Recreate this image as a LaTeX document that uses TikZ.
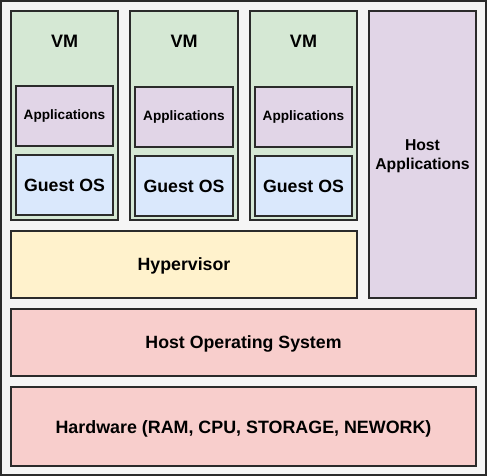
\documentclass[tikz,border=0pt]{standalone}
\usepackage{fontspec}
\setmainfont{Liberation Sans}
\definecolor{bgc}{HTML}{F5F5F5}
\definecolor{vmc}{HTML}{D5E8D4}
\definecolor{appc}{HTML}{E1D5E7}
\definecolor{osc}{HTML}{DAE8FC}
\definecolor{hypc}{HTML}{FFF2CC}
\definecolor{hwc}{HTML}{F8CECC}
\definecolor{edgec}{HTML}{2B2B2B}
\begin{document}
\begin{tikzpicture}[x=0.75pt,y=-0.75pt,
  box/.style={draw=edgec,line width=1.5pt,inner sep=0pt},
  lab/.style={font=\bfseries,text=black,align=center}]
\useasboundingbox (0,0) rectangle (487,476);
\path[fill=bgc,draw=edgec,line width=1.5pt] (1,1) rectangle (486,475);
% VMs
\foreach \i/\xa/\xb/\ya in {1/11/118/0, 2/130/238/1, 3/250/357/1}{
  \path[box,fill=vmc] (\xa,11) rectangle (\xb,220);
  \node[lab,font=\fontsize{13.5}{16}\bfseries\selectfont] (vm\i) at ({(\xa+\xb)/2},41) {VM};
  \path[box,fill=appc] ({\xa+5},{86+\ya}) rectangle ({\xb-5},{146+\ya});
  \node[lab,font=\fontsize{10.2}{12}\bfseries\selectfont] (app\i) at ({(\xa+\xb)/2},{116+\ya}) {Applications};
  \path[box,fill=osc] ({\xa+5},{155+\ya}) rectangle ({\xb-5},{215+\ya});
  \node[lab,font=\fontsize{13.3}{16}\bfseries\selectfont] (gos\i) at ({(\xa+\xb)/2},{185.5+\ya}) {Guest OS};
}
% Host applications
\path[box,fill=appc] (369,11) rectangle (476,298);
\node[lab,font=\fontsize{11.8}{14.5}\bfseries\selectfont] (hostapp) at (422.5,156.5) {Host\\Applications};
% Hypervisor
\path[box,fill=hypc] (11,231) rectangle (357,298);
\node[lab,font=\fontsize{13.3}{16}\bfseries\selectfont] (hyp) at (184,266) {Hypervisor};
% Host OS
\path[box,fill=hwc] (11,309) rectangle (476,376);
\node[lab,font=\fontsize{13.3}{16}\bfseries\selectfont] (hos) at (243.5,344) {Host Operating System};
% Hardware
\path[box,fill=hwc] (11,387) rectangle (476,466);
\node[lab,font=\fontsize{13.4}{16}\bfseries\selectfont] (hw) at (243.5,428.5) {Hardware (RAM, CPU, STORAGE, NEWORK)};
\end{tikzpicture}
\end{document}
